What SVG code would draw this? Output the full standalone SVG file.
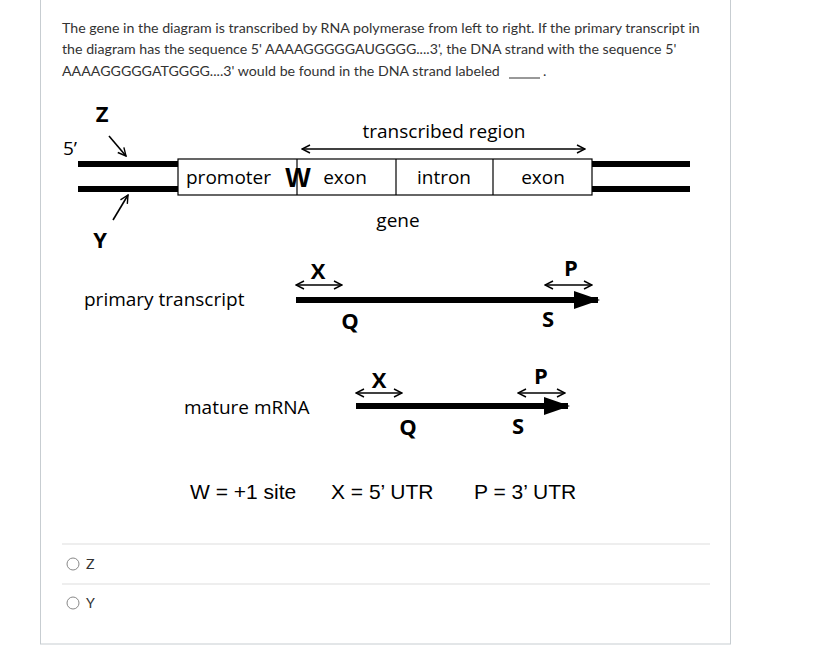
<svg xmlns="http://www.w3.org/2000/svg" width="834" height="654" viewBox="0 0 834 654">
<defs>
<marker id="ah" markerWidth="10" markerHeight="10" refX="9" refY="5" orient="auto-start-reverse" markerUnits="userSpaceOnUse"><path d="M1,1 L9,5 L1,9" fill="none" stroke="#000" stroke-width="1.4"/></marker>
<marker id="big" markerWidth="26" markerHeight="18" refX="24" refY="9" orient="auto" markerUnits="userSpaceOnUse"><path d="M0,0 L26,9 L0,18 Z" fill="#000"/></marker>
</defs>
<style>
.q{font-family:Lato,"Liberation Sans",sans-serif;font-size:14.2px;fill:#333}
.t{font-family:"Open Sans","Liberation Sans",sans-serif;font-size:19px;fill:#000}
.b{font-family:"Open Sans","Liberation Sans",sans-serif;font-size:22px;font-weight:bold;fill:#000;text-anchor:middle}
.a{font-family:"Liberation Sans",Arial,sans-serif;font-size:21px;fill:#000}
.thin{stroke:#000;stroke-width:1.6;fill:none}
.dna{stroke:#000;stroke-width:6}
</style>
<rect width="834" height="654" fill="#fff"/>
<rect x="40.5" y="-1" width="690" height="645" fill="none" stroke="#c7cdd1"/>
<text class="q" x="62" y="33">The gene in the diagram is transcribed by RNA polymerase from left to right. If the primary transcript in</text>
<text class="q" x="62" y="54">the diagram has the sequence 5' AAAAGGGGGAUGGGG....3', the DNA strand with the sequence 5'</text>
<text class="q" x="62" y="76">AAAAGGGGGATGGGG....3' would be found in the DNA strand labeled</text>
<line x1="509" y1="78" x2="540" y2="78" stroke="#333"/>
<text class="q" x="543" y="76">.</text>
<g id="dna">
<line class="dna" x1="78" y1="164" x2="178" y2="164"/><line class="dna" x1="78" y1="189" x2="178" y2="189"/>
<line class="dna" x1="592" y1="164" x2="690" y2="164"/><line class="dna" x1="592" y1="189" x2="690" y2="189"/>
</g>
<g id="gene-box">
<rect x="178" y="159" width="414" height="36" fill="#fff" stroke="#000" stroke-width="1.2"/>
<line x1="297" y1="159" x2="297" y2="195" stroke="#000" stroke-width="1.2"/>
<line x1="396" y1="159" x2="396" y2="195" stroke="#000" stroke-width="1.2"/>
<line x1="493" y1="159" x2="493" y2="195" stroke="#000" stroke-width="1.2"/>
<text class="t" x="186" y="184">promoter</text>
<text x="298" y="187" font-family="Liberation Sans,sans-serif" font-size="27" font-weight="bold" text-anchor="middle">W</text>
<text class="t" x="345" y="184" text-anchor="middle">exon</text>
<text class="t" x="444" y="184" text-anchor="middle">intron</text>
<text class="t" x="543" y="184" text-anchor="middle">exon</text>
<text class="t" x="398" y="227" text-anchor="middle">gene</text>
<text class="t" x="444" y="138" text-anchor="middle">transcribed region</text>
<text class="t" x="63" y="155" font-size="16">5’</text>
<text class="b" x="102" y="122" font-size="24">Z</text>
<text class="b" x="100" y="248" font-size="24">Y</text>
</g>
<g id="transcripts">
<text class="t" x="84" y="306">primary transcript</text>
<text class="t" x="184" y="414">mature mRNA</text>
<text class="b" x="318" y="279">X</text><text class="b" x="350" y="329">Q</text>
<text class="b" x="571" y="276">P</text><text class="b" x="548" y="327">S</text>
<text class="b" x="379" y="388">X</text><text class="b" x="408" y="435">Q</text>
<text class="b" x="541" y="384">P</text><text class="b" x="518" y="434">S</text>
</g>
<g id="connectors">
<line class="thin" x1="109" y1="136" x2="126" y2="156" marker-end="url(#ah)"/>
<line class="thin" x1="113" y1="220" x2="128" y2="195" marker-end="url(#ah)"/>
<line class="thin" x1="302" y1="149" x2="585" y2="149" marker-start="url(#ah)" marker-end="url(#ah)"/>
<line x1="296" y1="300" x2="598" y2="300" stroke="#000" stroke-width="6" marker-end="url(#big)"/>
<line class="thin" x1="296" y1="285" x2="342" y2="285" marker-start="url(#ah)" marker-end="url(#ah)"/>
<line class="thin" x1="545" y1="285" x2="592" y2="285" marker-start="url(#ah)" marker-end="url(#ah)"/>
<line x1="356" y1="406" x2="568" y2="406" stroke="#000" stroke-width="6" marker-end="url(#big)"/>
<line class="thin" x1="356" y1="393" x2="402" y2="393" marker-start="url(#ah)" marker-end="url(#ah)"/>
<line class="thin" x1="518" y1="393" x2="565" y2="393" marker-start="url(#ah)" marker-end="url(#ah)"/>
</g>
<g id="legend">
<text class="a" x="190" y="499">W = +1 site</text>
<text class="a" x="331" y="499">X = 5’ UTR</text>
<text class="a" x="474" y="499">P = 3’ UTR</text>
</g>
<g id="answers">
<line x1="62" y1="544" x2="710" y2="544" stroke="#ddd"/>
<line x1="62" y1="584" x2="710" y2="584" stroke="#ddd"/>
<circle cx="73" cy="564" r="6" fill="#fff" stroke="#888"/>
<circle cx="73" cy="603" r="6" fill="#fff" stroke="#888"/>
<text class="q" x="86" y="569">Z</text>
<text class="q" x="86" y="608">Y</text>
</g>
</svg>
